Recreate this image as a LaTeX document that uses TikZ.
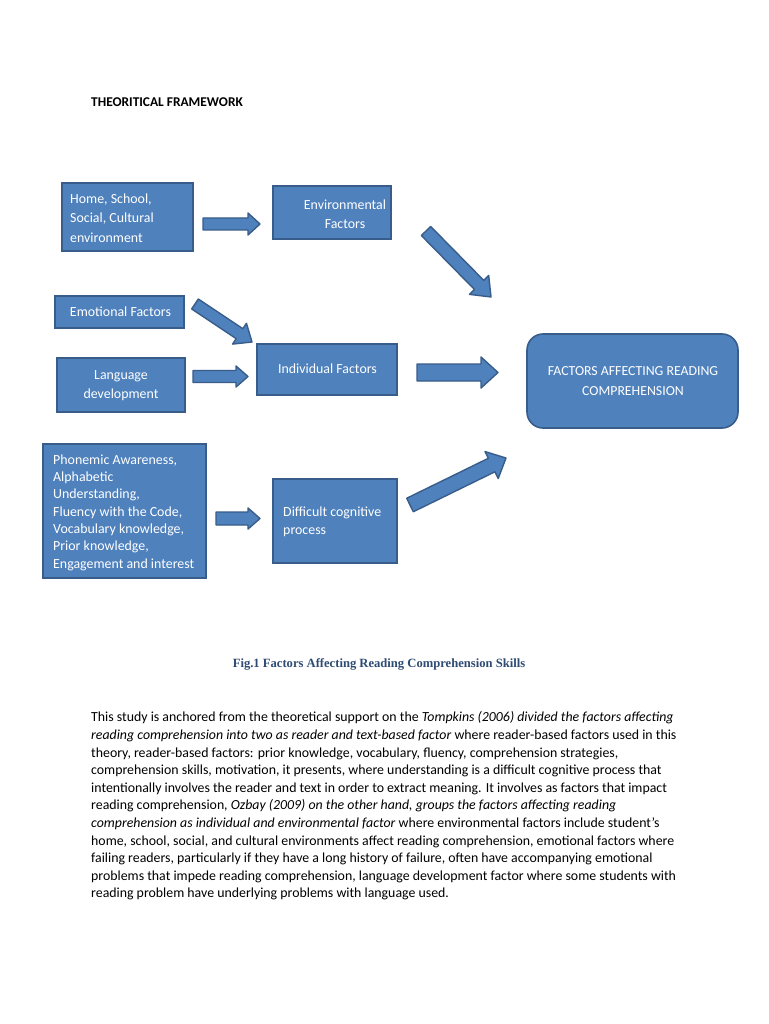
\documentclass[tikz,border=0pt]{standalone}
\usepackage{fontspec}
\setmainfont{Carlito}
\newfontfamily\capfont{Liberation Serif}
\usetikzlibrary{calc}
\definecolor{boxblue}{HTML}{4F81BD}
\definecolor{boxline}{HTML}{385D8A}
\definecolor{capblue}{HTML}{2E4B73}
\newcommand\blockarr[5]{% tail, tip, shaft half, head half, head length
  \coordinate (ba-c) at ($(#2)!#5pt!(#1)$);
  \draw[barrow] ($(#1)!#3pt!90:(#2)$) -- ($(ba-c)!#3pt!-90:(#1)$) -- ($(ba-c)!#4pt!-90:(#1)$) -- (#2)
    -- ($(ba-c)!#4pt!90:(#1)$) -- ($(ba-c)!#3pt!90:(#1)$) -- ($(#1)!#3pt!-90:(#2)$) -- cycle;}
\tikzset{
  x=1pt, y=-1pt,
  bx/.style={draw=boxline, fill=boxblue, line width=1.6pt, inner sep=0pt},
  barrow/.style={draw=boxline, fill=boxblue, line width=1.4pt, line join=round},
  bt/.style={text=white, font=\fontsize{13.9}{19.5}\selectfont, inner sep=0pt},
  body/.style={font=\fontsize{13.85}{17.6}\selectfont, align=left, inner sep=0pt, anchor=north west},
}
\begin{document}
\begin{tikzpicture}
\useasboundingbox (0,0) rectangle (768,1024);
\fill[white] (0,0) rectangle (768,1024);

\node[anchor=west, inner sep=0pt, font=\bfseries\fontsize{13.4}{15}\selectfont] (title) at (91,102) {THEORITICAL FRAMEWORK};

% boxes
\node[bx, minimum width=131, minimum height=68] (home) at (127.5,217) {};
\node[bx, minimum width=118, minimum height=53] (env) at (332,212.5) {};
\node[bx, minimum width=129, minimum height=32] (emo) at (119.5,312) {};
\node[bx, minimum width=128, minimum height=54] (lang) at (121,385) {};
\node[bx, minimum width=140, minimum height=51] (ind) at (327,369.5) {};
\node[bx, minimum width=211, minimum height=94, rounded corners=16pt] (final) at (632.5,381) {};
\node[bx, minimum width=163, minimum height=134] (phon) at (124.5,511) {};
\node[bx, minimum width=124, minimum height=84] (diff) at (335,521) {};

% texts
\node[bt, align=left, anchor=west] (homet) at (70,218) {Home, School,\\Social, Cultural\\environment};
\node[bt, align=center] (envt) at (345,214) {Environmental\\Factors};
\node[bt] (emot) at (120.5,312) {Emotional Factors};
\node[bt, align=center, font=\fontsize{13.9}{19}\selectfont] (langt) at (121,386) {Language\\development};
\node[bt] (indt) at (327.5,369) {Individual Factors};
\node[bt, align=center, font=\fontsize{13.8}{20}\selectfont] (finalt) at (633,381.5) {FACTORS AFFECTING READING\\COMPREHENSION};
\node[bt, align=left, anchor=west, font=\fontsize{13.9}{17.3}\selectfont] (phont) at (53,512.5) {Phonemic Awareness,\\Alphabetic\\Understanding,\\Fluency with the Code,\\Vocabulary knowledge,\\Prior knowledge,\\Engagement and interest};
\node[bt, align=left, anchor=west, font=\fontsize{13.9}{18}\selectfont] (difft) at (283,521.5) {Difficult cognitive\\process};

% arrow end points
\coordinate (a1s) at (203,224); \coordinate (a1e) at (260,224);
\coordinate (a2s) at (426,231); \coordinate (a2e) at (491,297);
\coordinate (a3s) at (195,304); \coordinate (a3e) at (252,342);
\coordinate (a4s) at (193,376.5); \coordinate (a4e) at (248,376.5);
\coordinate (a5s) at (417,372.5); \coordinate (a5e) at (498,372.5);
\coordinate (a6s) at (216,518.5); \coordinate (a6e) at (260,518.5);
\coordinate (a7s) at (410,505); \coordinate (a7e) at (506,458);
\blockarr{a1s}{a1e}{6}{11}{12}
\blockarr{a2s}{a2e}{6.5}{13.5}{17}
\blockarr{a3s}{a3e}{6}{12.5}{15}
\blockarr{a4s}{a4e}{6}{10.5}{12}
\blockarr{a5s}{a5e}{8.5}{15.5}{17}
\blockarr{a6s}{a6e}{6.5}{10.5}{12}
\blockarr{a7s}{a7e}{7.5}{15}{16}

% caption
\node[inner sep=0pt, text=capblue, font=\capfont\bfseries\fontsize{12.6}{14}\selectfont] (cap) at (379,664) {Fig.1 Factors Affecting Reading Comprehension Skills};

% body text
\node[body] (bodytext) at (91,711.5) {This study is anchored from the theoretical support on the \textit{Tompkins (2006) divided the factors affecting}\\
\textit{reading comprehension into two as reader and text-based factor} where reader-based factors used in this\\
theory, reader-based factors: prior knowledge, vocabulary, fluency, comprehension strategies,\\
comprehension skills, motivation, it presents, where understanding is a difficult cognitive process that\\
intentionally involves the reader and text in order to extract meaning. It involves as factors that impact\\
reading comprehension\textit{, Ozbay (2009) on the other hand, groups the factors affecting reading}\\
\textit{comprehension as individual and environmental factor} where environmental factors include student’s\\
home, school, social, and cultural environments affect reading comprehension, emotional factors where\\
failing readers, particularly if they have a long history of failure, often have accompanying emotional\\
problems that impede reading comprehension, language development factor where some students with\\
reading problem have underlying problems with language used.};
\end{tikzpicture}
\end{document}
